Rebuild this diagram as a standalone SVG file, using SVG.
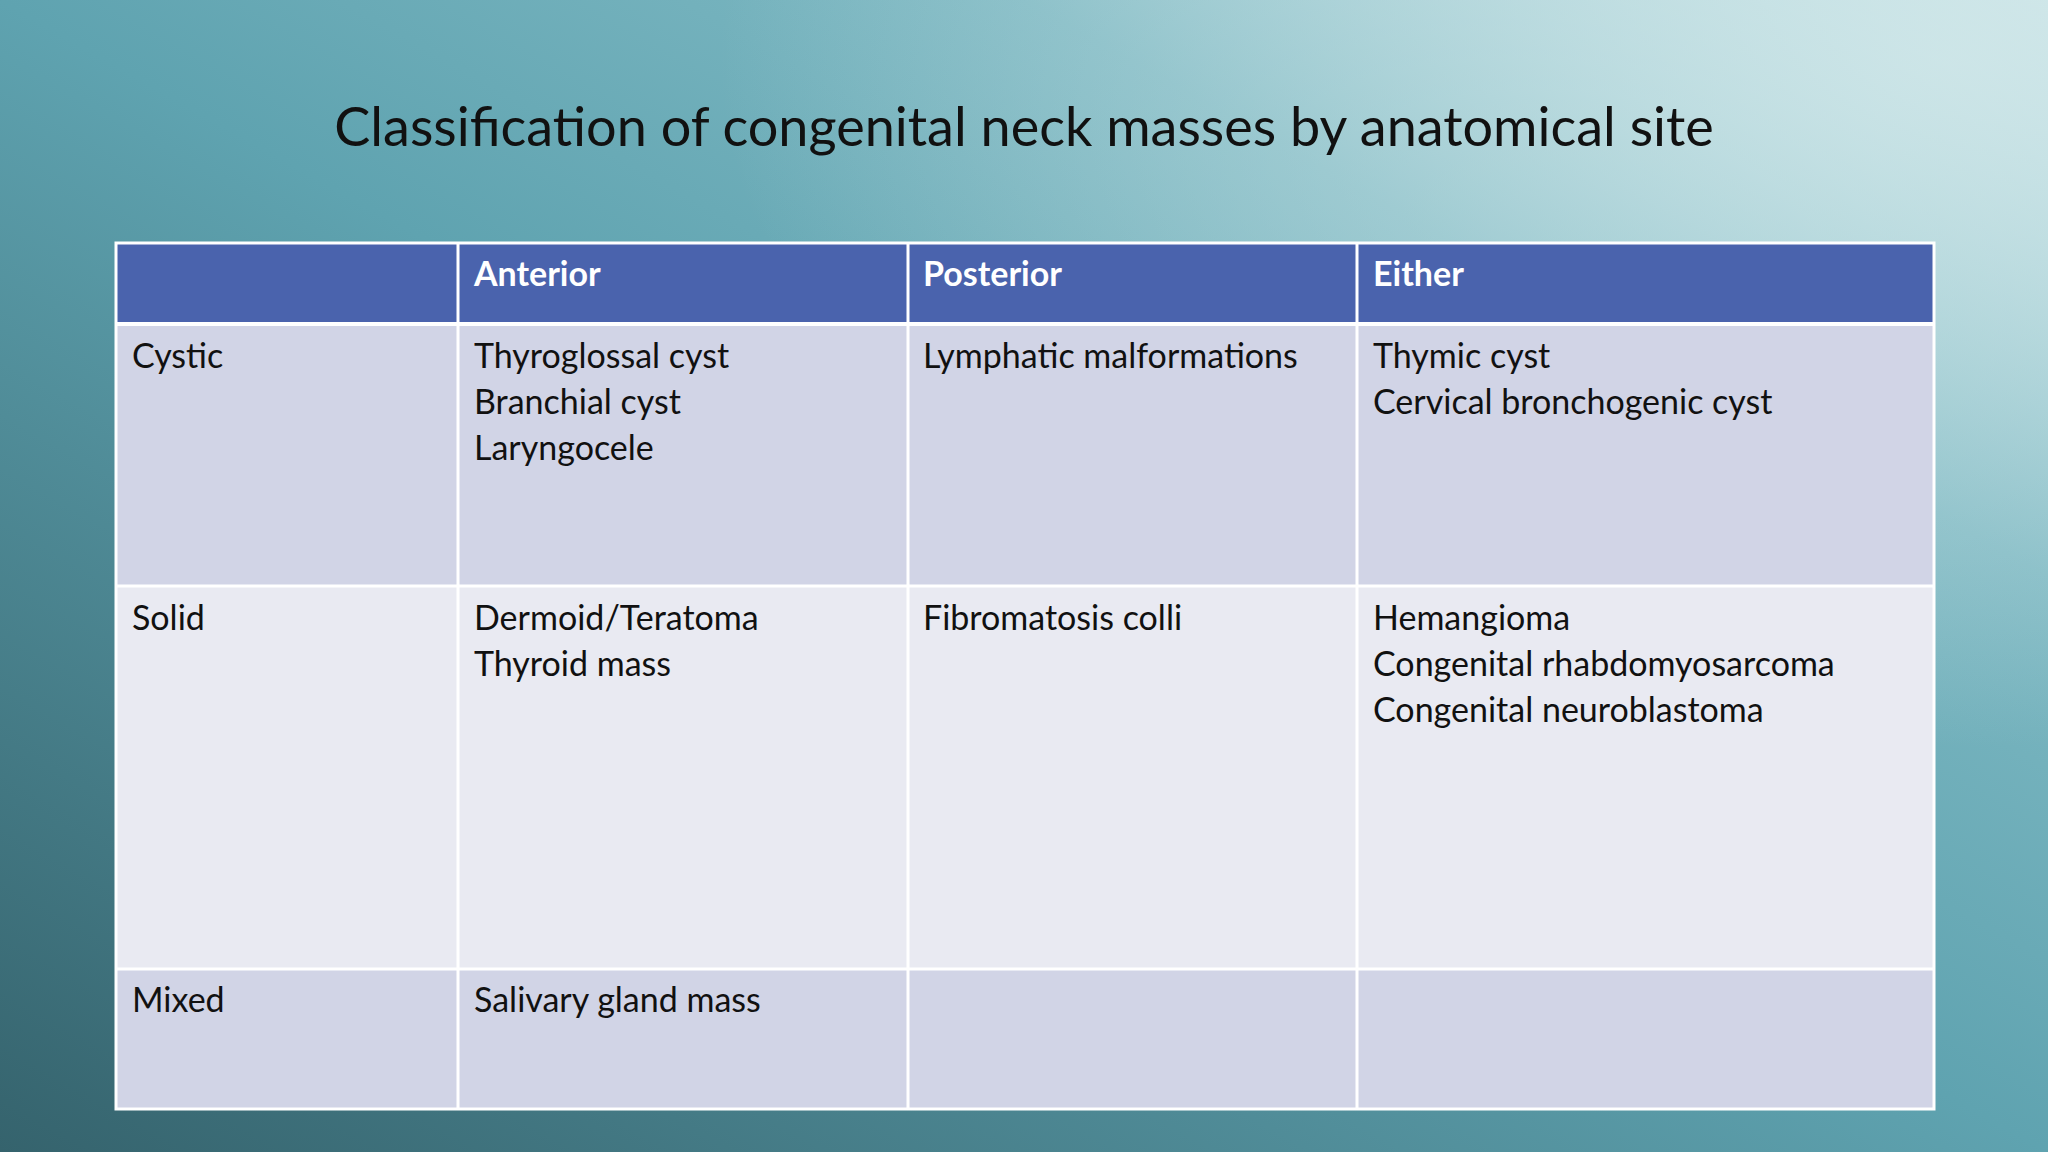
<svg xmlns="http://www.w3.org/2000/svg" width="2048" height="1152" viewBox="0 0 2048 1152">
<defs>
<linearGradient id="bg" x1="0" y1="1" x2="1" y2="0">
<stop offset="0" stop-color="#35636d"/>
<stop offset="0.5" stop-color="#5fa3b0"/>
<stop offset="0.75" stop-color="#7db8c2"/>
<stop offset="1" stop-color="#c6e2e5"/>
</linearGradient>
<radialGradient id="hl" cx="0.95" cy="0.05" r="0.6">
<stop offset="0" stop-color="#d2e8ea" stop-opacity="0.8"/>
<stop offset="1" stop-color="#d2e8ea" stop-opacity="0"/>
</radialGradient>
<style>
.t{font-family:Lato,"Open Sans",sans-serif;font-size:34px;fill:#111}
.h{font-family:Lato,"Open Sans",sans-serif;font-size:34px;font-weight:bold;fill:#fff}
.ln{stroke:#fff;stroke-width:3;fill:none}
</style>
</defs>
<rect width="2048" height="1152" fill="url(#bg)"/>
<rect width="2048" height="1152" fill="url(#hl)"/>
<text x="1024" y="146" text-anchor="middle" font-family="Lato,'Open Sans',sans-serif" font-size="54" fill="#111">Classification of congenital neck masses by anatomical site</text>
<g id="table">
<rect x="116" y="243" width="1818" height="81" fill="#4a63ad"/>
<rect x="116" y="324" width="1818" height="262" fill="#d1d4e6"/>
<rect x="116" y="586" width="1818" height="383" fill="#e9eaf2"/>
<rect x="116" y="969" width="1818" height="140" fill="#d1d4e6"/>
<rect x="116" y="243" width="1818" height="866" class="ln"/>
<path class="ln" d="M458 243V1109M908 243V1109M1357 243V1109M116 324H1934M116 586H1934M116 969H1934"/>
<path stroke="#fff" stroke-width="4" d="M116 324H1934"/>
</g>
<g id="header">
<text class="h" x="474" y="286">Anterior</text>
<text class="h" x="923" y="286">Posterior</text>
<text class="h" x="1373" y="286">Either</text>
</g>
<g id="cystic">
<text class="t" x="132" y="368">Cystic</text>
<text class="t" x="474" y="368">Thyroglossal cyst</text>
<text class="t" x="474" y="414">Branchial cyst</text>
<text class="t" x="474" y="460">Laryngocele</text>
<text class="t" x="923" y="368">Lymphatic malformations</text>
<text class="t" x="1373" y="368">Thymic cyst</text>
<text class="t" x="1373" y="414">Cervical bronchogenic cyst</text>
</g>
<g id="solid">
<text class="t" x="132" y="630">Solid</text>
<text class="t" x="474" y="630">Dermoid/Teratoma</text>
<text class="t" x="474" y="676">Thyroid mass</text>
<text class="t" x="923" y="630">Fibromatosis colli</text>
<text class="t" x="1373" y="630">Hemangioma</text>
<text class="t" x="1373" y="676">Congenital rhabdomyosarcoma</text>
<text class="t" x="1373" y="722">Congenital neuroblastoma</text>
</g>
<g id="mixed">
<text class="t" x="132" y="1012">Mixed</text>
<text class="t" x="474" y="1012">Salivary gland mass</text>
</g>
<g id="connectors"/>
</svg>
